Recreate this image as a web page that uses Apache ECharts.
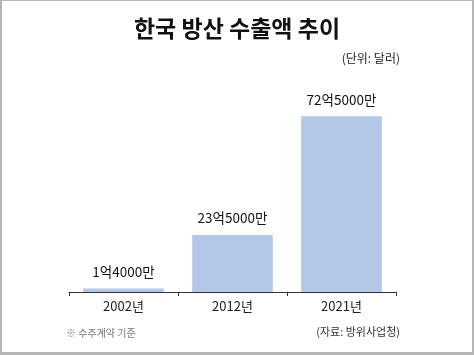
<!DOCTYPE html>
<html><head><meta charset="utf-8">
<script src="https://cdn.jsdelivr.net/npm/echarts@6/dist/echarts.min.js"></script>
<style>html,body{margin:0;padding:0;background:#fff}#c{width:474px;height:355px}</style>
</head><body><div id="c"></div>
<script>
const categories = ['2002년', '2012년', '2021년'];
const values = [1.4, 23.5, 72.5]; // 억 달러
const valueLabels = ['1억4000만', '23억5000만', '72억5000만'];
const titleText = '한국 방산 수출액 추이';
const unitText = '(단위: 달러)';
const noteText = '※ 수주계약 기준';
const sourceText = '(자료: 방위사업청)';

const font = '"Noto Sans CJK KR", "Noto Sans", sans-serif';
const borderColor = '#b5b5b5';
const chart = echarts.init(document.getElementById('c'), null, {renderer: 'canvas'});
chart.setOption({
  backgroundColor: '#fff',
  animation: false,
  textStyle: {fontFamily: font},
  graphic: [
    {type: 'rect', shape: {x: 0, y: 0, width: 2, height: 355}, style: {fill: borderColor}, z: 100},
    {type: 'rect', shape: {x: 472, y: 0, width: 2, height: 355}, style: {fill: borderColor}, z: 100},
    {type: 'rect', shape: {x: 0, y: 0, width: 474, height: 1}, style: {fill: borderColor}, z: 100},
    {type: 'rect', shape: {x: 0, y: 352, width: 474, height: 3}, style: {fill: borderColor}, z: 100},
    {type: 'text', left: 'center', top: 17, style: {text: titleText, font: 'bold 23px ' + font, fill: '#111'}},
    {type: 'text', right: 74, top: 52, style: {text: unitText, font: '12px ' + font, fill: '#222'}},
    {type: 'text', left: 66, top: 328, style: {text: noteText, font: '10px ' + font, fill: '#777'}},
    {type: 'text', right: 74, top: 326, style: {text: sourceText, font: '11px ' + font, fill: '#333'}}
  ],
  grid: {left: 69, right: 78, top: 98, bottom: 63, containLabel: false},
  xAxis: {
    type: 'category', data: categories,
    axisLine: {lineStyle: {color: '#333', width: 1}},
    axisTick: {show: true, length: 4, lineStyle: {color: '#333'}},
    axisLabel: {fontSize: 13, color: '#222', margin: 8, fontFamily: font}
  },
  yAxis: {type: 'value', min: 0, max: 80, show: false, splitLine: {show: false}},
  series: [{
    type: 'bar', data: values, barWidth: '74%',
    itemStyle: {color: '#b4c7e7'},
    label: {show: true, position: 'top', distance: 10, fontSize: 13.5, color: '#111', fontFamily: font,
      formatter: p => valueLabels[p.dataIndex]}
  }]
});
</script></body></html>
